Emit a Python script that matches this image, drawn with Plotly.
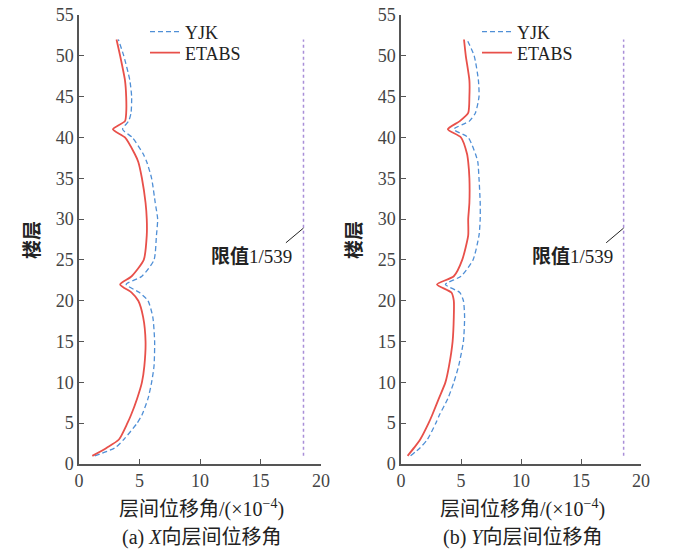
import plotly.graph_objects as go

# floors sampled along the curves
floors = [1, 2, 3, 5, 6, 8, 10, 12, 15, 18, 20, 21, 22, 23, 25, 28, 30,
          32, 35, 37, 38, 40, 41, 42, 43, 45, 47, 50, 52]

# (a) X direction, drift angle x1e-4
x_yjk = [1.3, 3.0, 3.7, 4.8, 5.2, 5.7, 6.0, 6.2, 6.25, 6.1, 5.7, 5.0, 3.9, 5.2, 6.2, 6.4, 6.5,
         6.3, 6.0, 5.6, 5.3, 4.4, 3.6, 4.1, 4.3, 4.35, 4.2, 3.7, 3.25]
x_etabs = [1.1, 2.3, 3.3, 4.0, 4.3, 4.8, 5.2, 5.4, 5.5, 5.3, 4.9, 4.35, 3.4, 4.35, 5.35, 5.6, 5.6,
           5.5, 5.2, 4.9, 4.6, 3.8, 2.8, 3.8, 3.9, 3.9, 3.8, 3.4, 3.1]

# (b) Y direction
y_yjk = [0.8, 1.6, 2.2, 2.9, 3.2, 3.9, 4.4, 4.8, 5.2, 5.3, 5.2, 4.9, 3.7, 5.0, 6.0, 6.5, 6.6,
         6.6, 6.5, 6.4, 6.2, 5.6, 4.4, 5.7, 6.2, 6.5, 6.45, 6.1, 5.5]
y_etabs = [0.55, 1.1, 1.6, 2.3, 2.6, 3.15, 3.7, 4.0, 4.3, 4.4, 4.4, 4.2, 3.0, 4.4, 5.1, 5.6, 5.6,
           5.7, 5.7, 5.6, 5.5, 5.0, 3.9, 4.9, 5.6, 5.7, 5.7, 5.4, 5.25]

limit = 10000 / 539  # 1/539 in units of 1e-4
limit_floors = [1, 52]
limit_label = "<b>限值</b>1/539"

x_ticks = [0, 5, 10, 15, 20]
y_ticks = list(range(0, 56, 5))

FONT = "Liberation Serif, Noto Sans CJK SC"
RED = "#e8504a"
BLUE = "#4f8fd6"
PURPLE = "#a98fd8"
AXIS = "#555555"
W, H = 677, 559

fig = go.Figure()

# each panel: axes, legend for YJK, legend for ETABS, data
panels = [("x", "y", "legend", "legend3", x_yjk, x_etabs),
          ("x2", "y2", "legend2", "legend4", y_yjk, y_etabs)]
for xa, ya, lg1, lg2, yjk, etabs in panels:
    fig.add_trace(go.Scatter(x=yjk, y=floors, xaxis=xa, yaxis=ya, mode="lines", name="YJK",
                             legend=lg1, line=dict(color=BLUE, width=1.3, dash="5px,3px",
                                                   shape="spline", smoothing=0.6)))
    fig.add_trace(go.Scatter(x=etabs, y=floors, xaxis=xa, yaxis=ya, mode="lines", name="ETABS",
                             legend=lg2, line=dict(color=RED, width=1.8,
                                                   shape="spline", smoothing=0.6)))
    fig.add_trace(go.Scatter(x=[limit, limit], y=limit_floors, xaxis=xa, yaxis=ya, mode="lines",
                             showlegend=False, line=dict(color=PURPLE, width=1.5, dash="dot")))
    # leader line for the limit label
    fig.add_shape(type="line", xref=xa, yref=ya, x0=17.1, y0=27.1, x1=limit, y1=28.9,
                  line=dict(color="#222222", width=1))
    fig.add_annotation(xref=xa, yref=ya, x=17.8, y=25.4, xanchor="right", yanchor="middle",
                       showarrow=False, text=limit_label,
                       font=dict(size=19, color="#222222", family=FONT))

axis_common = dict(showgrid=False, zeroline=False, showline=True, linecolor=AXIS, linewidth=1.5,
                   ticks="inside", ticklen=5, tickcolor=AXIS, automargin=False,
                   tickfont=dict(size=18, color="#444444", family=FONT))

legend_common = dict(yanchor="middle", xanchor="left", bgcolor="rgba(0,0,0,0)", itemwidth=30,
                     font=dict(size=18, family=FONT, color="#222222"))

fig.update_layout(
    width=W, height=H,
    margin=dict(l=0, r=0, t=0, b=0, autoexpand=False),
    paper_bgcolor="white", plot_bgcolor="white",
    font=dict(family=FONT, color="#222222"),
    xaxis=dict(domain=[79 / W, 321 / W], range=[0, 20], tickvals=x_ticks, anchor="y", **axis_common),
    yaxis=dict(domain=[1 - 464 / H, 1 - 15 / H], range=[0, 55], tickvals=y_ticks, anchor="x", **axis_common),
    xaxis2=dict(domain=[401 / W, 641 / W], range=[0, 20], tickvals=x_ticks, anchor="y2", **axis_common),
    yaxis2=dict(domain=[1 - 464 / H, 1 - 15 / H], range=[0, 55], tickvals=y_ticks, anchor="x2", **axis_common),
    legend=dict(x=145 / W, y=1 - 32 / H, **legend_common),
    legend3=dict(x=145 / W, y=1 - 53 / H, **legend_common),
    legend2=dict(x=477 / W, y=1 - 32 / H, **legend_common),
    legend4=dict(x=477 / W, y=1 - 53 / H, **legend_common),
)

# axis titles and captions
for cx, cap in [(201 / W, "(a) <i>X</i>向层间位移角"), (522 / W, "(b) <i>Y</i>向层间位移角")]:
    fig.add_annotation(xref="paper", yref="paper", x=cx, y=1 - 508 / H, xanchor="center",
                       yanchor="middle", showarrow=False, text="层间位移角/(×10<sup>−4</sup>)",
                       font=dict(size=20, family=FONT))
    fig.add_annotation(xref="paper", yref="paper", x=cx, y=1 - 537 / H, xanchor="center",
                       yanchor="middle", showarrow=False, text=cap, font=dict(size=20, family=FONT))
for lx in [33 / W, 355 / W]:
    fig.add_annotation(xref="paper", yref="paper", x=lx, y=1 - 240 / H, xanchor="center",
                       yanchor="middle", showarrow=False, textangle=-90, text="<b>楼层</b>",
                       font=dict(size=19, family=FONT))

fig.write_html("out.html", config={"displayModeBar": False},
               post_script="document.body.style.margin='0';"
                           "document.body.style.overflow='hidden';"
                           "document.documentElement.style.overflow='hidden';")
